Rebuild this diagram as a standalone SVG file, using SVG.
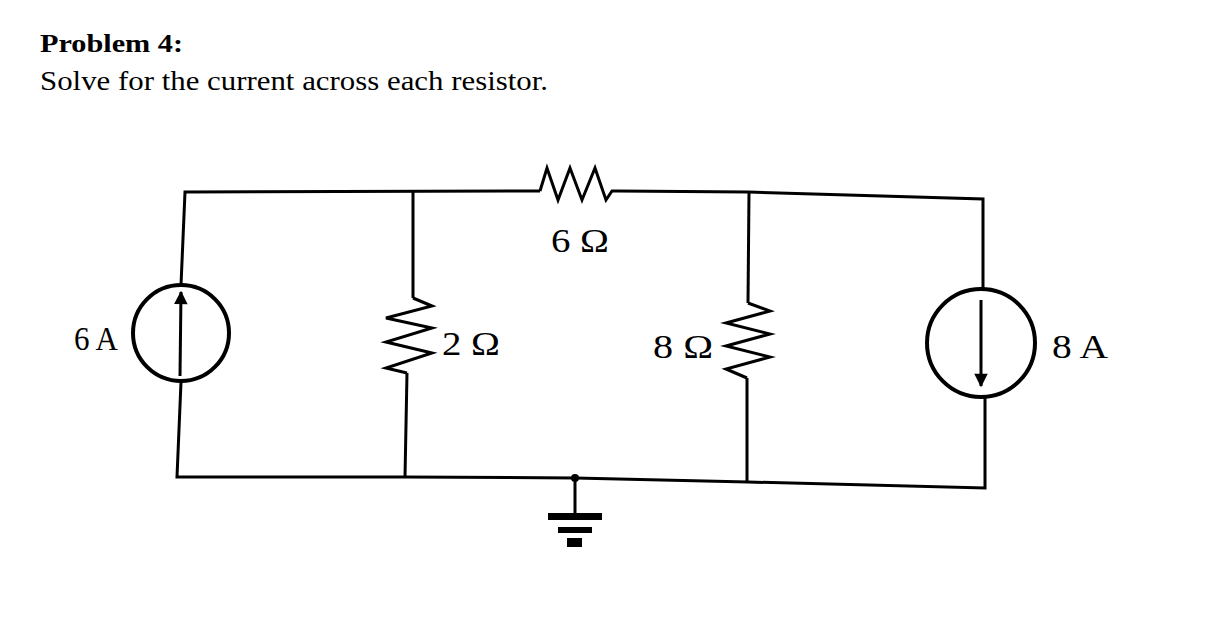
<svg xmlns="http://www.w3.org/2000/svg" width="1227" height="627" viewBox="0 0 1227 627">
<style>
.w{fill:none;stroke:#000;stroke-width:3;stroke-linejoin:miter}
.c{fill:none;stroke:#000;stroke-width:4}
.t{font-family:"Liberation Serif",serif;fill:#000}
.l{font-family:"Liberation Serif",serif;font-size:34px;fill:#000}
</style>
<defs>
<marker id="ah" viewBox="0 0 10 10" refX="9" refY="5" markerWidth="8" markerHeight="4.5" orient="auto" markerUnits="strokeWidth">
<path d="M0,0 L10,5 L0,10 z" fill="#000"/>
</marker>
</defs>
<rect width="1227" height="627" fill="#fff"/>
<text class="t" x="40" y="52" font-size="26" font-weight="bold" textLength="143" lengthAdjust="spacingAndGlyphs">Problem 4:</text>
<text class="t" x="40" y="90" font-size="27" textLength="508" lengthAdjust="spacingAndGlyphs">Solve for the current across each resistor.</text>
<g id="connectors">
<polyline class="w" points="181,285 185,192 540,191"/>
<polyline class="w" points="617,191 748,192 983,199 983,288"/>
<polyline class="w" points="181,382 177,477 405,477 575,478 748,482 985,488 985,398"/>
<polyline class="w" points="413,192 413,298"/>
<polyline class="w" points="407,373 405,477"/>
<polyline class="w" points="749,192 748,303"/>
<polyline class="w" points="747,378 747,482"/>
</g>
<g id="src6A">
<circle class="c" cx="181" cy="333" r="48"/>
<line class="w" x1="180" y1="376" x2="181" y2="292" marker-end="url(#ah)"/>
<text class="l" x="74" y="350" textLength="44" lengthAdjust="spacingAndGlyphs">6 A</text>
</g>
<g id="R2">
<polyline class="w" points="413,298 432,306 386,318 432,328 386,342 432,353 386,368 407,373"/>
<text class="l" x="442" y="355" textLength="58" lengthAdjust="spacingAndGlyphs">2 Ω</text>
</g>
<g id="R6">
<polyline class="w" points="540,191 547,168 558,200 570,168 582,200 595,168 606,200 612,191 617,191"/>
<text class="l" x="551" y="252" textLength="58" lengthAdjust="spacingAndGlyphs">6 Ω</text>
</g>
<g id="R8">
<polyline class="w" points="748,303 770,311 726,323 770,334 726,346 770,357 726,369 747,378"/>
<text class="l" x="653" y="358" textLength="60" lengthAdjust="spacingAndGlyphs">8 Ω</text>
</g>
<g id="src8A">
<circle class="c" cx="981" cy="343" r="54"/>
<line class="w" x1="981" y1="300" x2="981" y2="386" marker-end="url(#ah)"/>
<text class="l" x="1052" y="358" textLength="56" lengthAdjust="spacingAndGlyphs">8 A</text>
</g>
<g id="ground">
<circle cx="575" cy="478" r="4" fill="#000"/>
<line class="w" x1="575" y1="478" x2="575" y2="514"/>
<rect x="548" y="513" width="54" height="7" fill="#000"/>
<rect x="558" y="527" width="34" height="6" fill="#000"/>
<rect x="567" y="538" width="15" height="9" fill="#000"/>
</g>
</svg>
